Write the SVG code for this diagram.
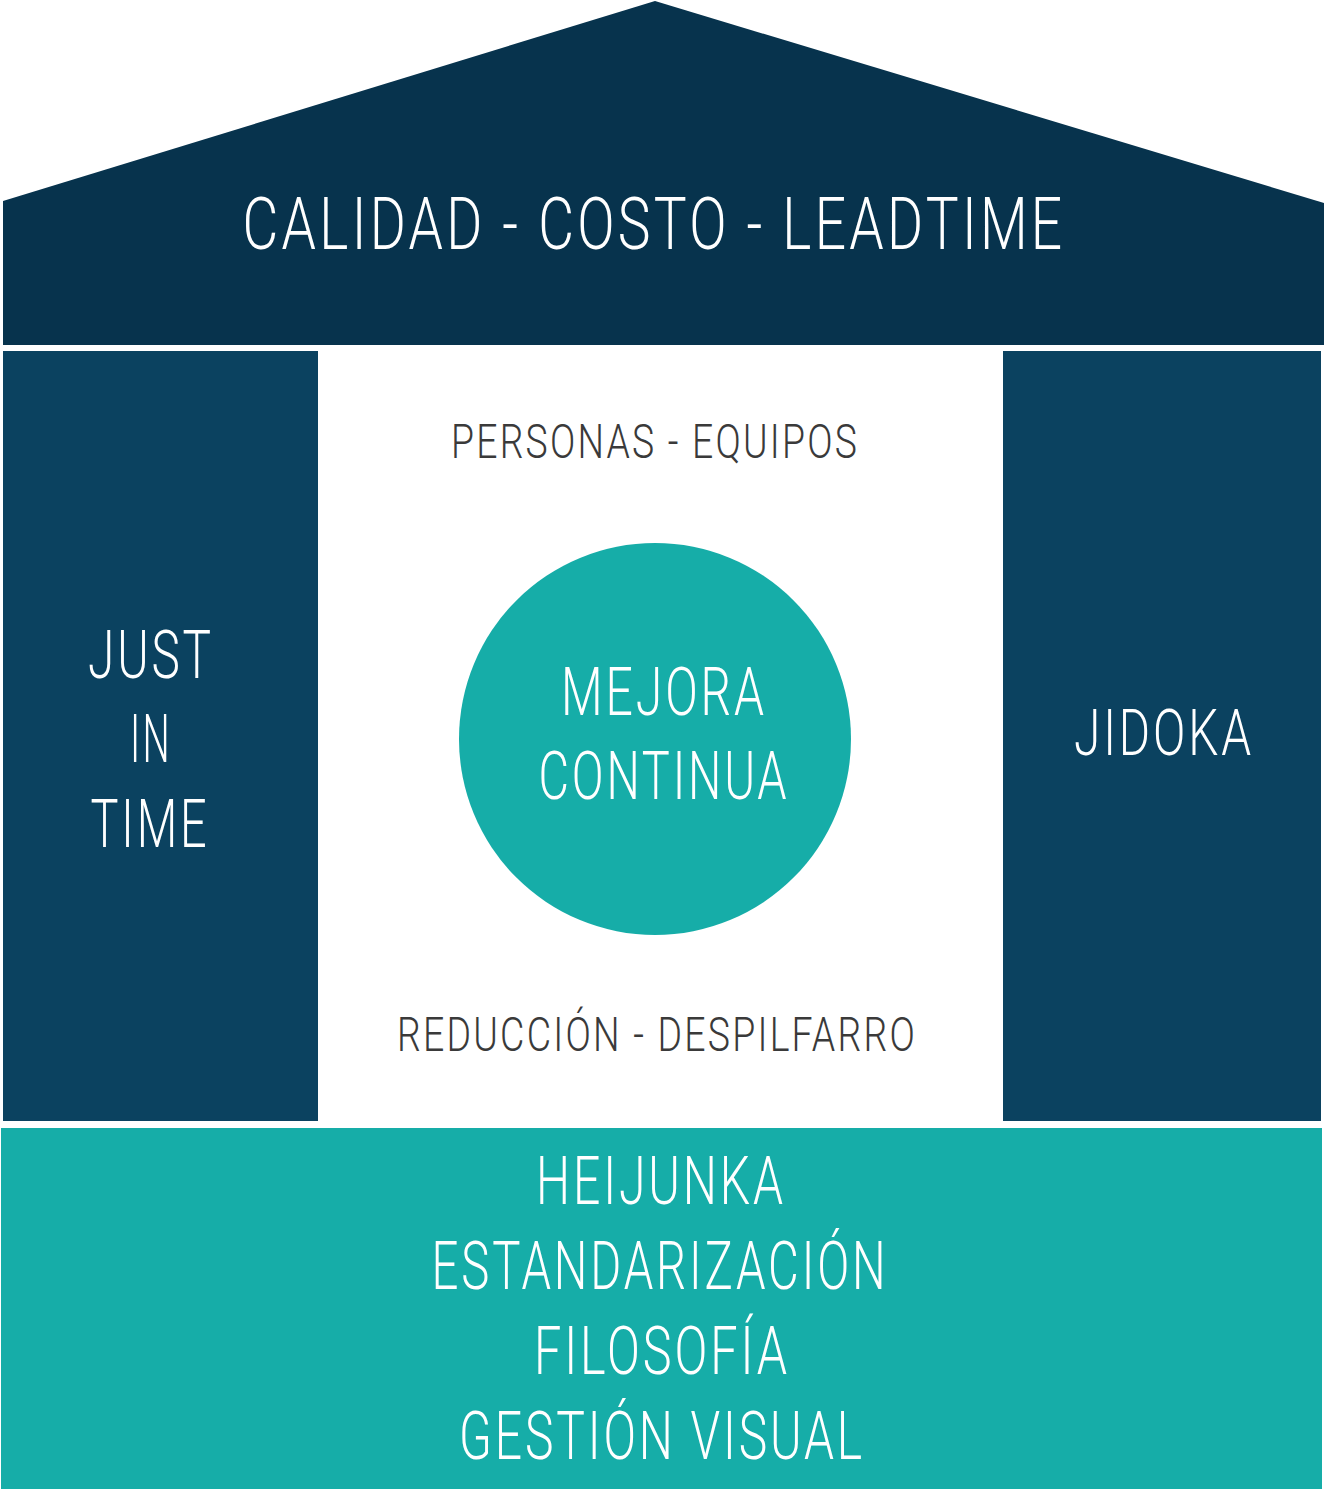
<svg xmlns="http://www.w3.org/2000/svg" width="1325" height="1489" viewBox="0 0 1325 1489">
<style>
.t{font-family:Roboto,"Liberation Sans Narrow","DejaVu Sans Condensed",sans-serif;font-weight:300;text-anchor:middle;letter-spacing:0.06em}
.w{fill:#ffffff}
.g{fill:#3a3a3a}
.roof{fill:#07334d}
.pillar{fill:#0b4260}
.teal{fill:#16ada8}
</style>
<rect x="0" y="0" width="1325" height="1489" fill="#ffffff"/>
<g id="roof">
<polygon class="roof" points="3,201 655,1 1324,203 1324,345 3,345"/>
<text class="t w" x="654" y="249" font-size="73" textLength="823" lengthAdjust="spacingAndGlyphs">CALIDAD - COSTO - LEADTIME</text>
</g>
<g id="pillar-left">
<rect class="pillar" x="3" y="351" width="315" height="770"/>
<text class="t w" x="151" y="678" font-size="66" textLength="126" lengthAdjust="spacingAndGlyphs">JUST</text>
<text class="t w" x="151" y="762" font-size="66" textLength="42" lengthAdjust="spacingAndGlyphs">IN</text>
<text class="t w" x="150" y="847" font-size="66" textLength="119" lengthAdjust="spacingAndGlyphs">TIME</text>
</g>
<g id="pillar-right">
<rect class="pillar" x="1003" y="351" width="318" height="770"/>
<text class="t w" x="1164" y="755" font-size="65" textLength="180" lengthAdjust="spacingAndGlyphs">JIDOKA</text>
</g>
<g id="personas">
<text class="t g" x="655" y="458" font-size="49" textLength="408" lengthAdjust="spacingAndGlyphs">PERSONAS - EQUIPOS</text>
</g>
<g id="mejora">
<circle class="teal" cx="655" cy="739" r="196"/>
<text class="t w" x="664" y="715" font-size="67" textLength="206" lengthAdjust="spacingAndGlyphs">MEJORA</text>
<text class="t w" x="664" y="799" font-size="67" textLength="251" lengthAdjust="spacingAndGlyphs">CONTINUA</text>
</g>
<g id="reduccion">
<text class="t g" x="657" y="1051" font-size="49" textLength="520" lengthAdjust="spacingAndGlyphs">REDUCCIÓN - DESPILFARRO</text>
</g>
<g id="base">
<rect class="teal" x="1" y="1128" width="1321" height="361"/>
<text class="t w" x="661" y="1204" font-size="66" textLength="250" lengthAdjust="spacingAndGlyphs">HEIJUNKA</text>
<text class="t w" x="660" y="1289" font-size="66" textLength="457" lengthAdjust="spacingAndGlyphs">ESTANDARIZACIÓN</text>
<text class="t w" x="662" y="1374" font-size="66" textLength="256" lengthAdjust="spacingAndGlyphs">FILOSOFÍA</text>
<text class="t w" x="662" y="1459" font-size="66" textLength="406" lengthAdjust="spacingAndGlyphs">GESTIÓN VISUAL</text>
</g>
<g id="connectors"></g>
</svg>
